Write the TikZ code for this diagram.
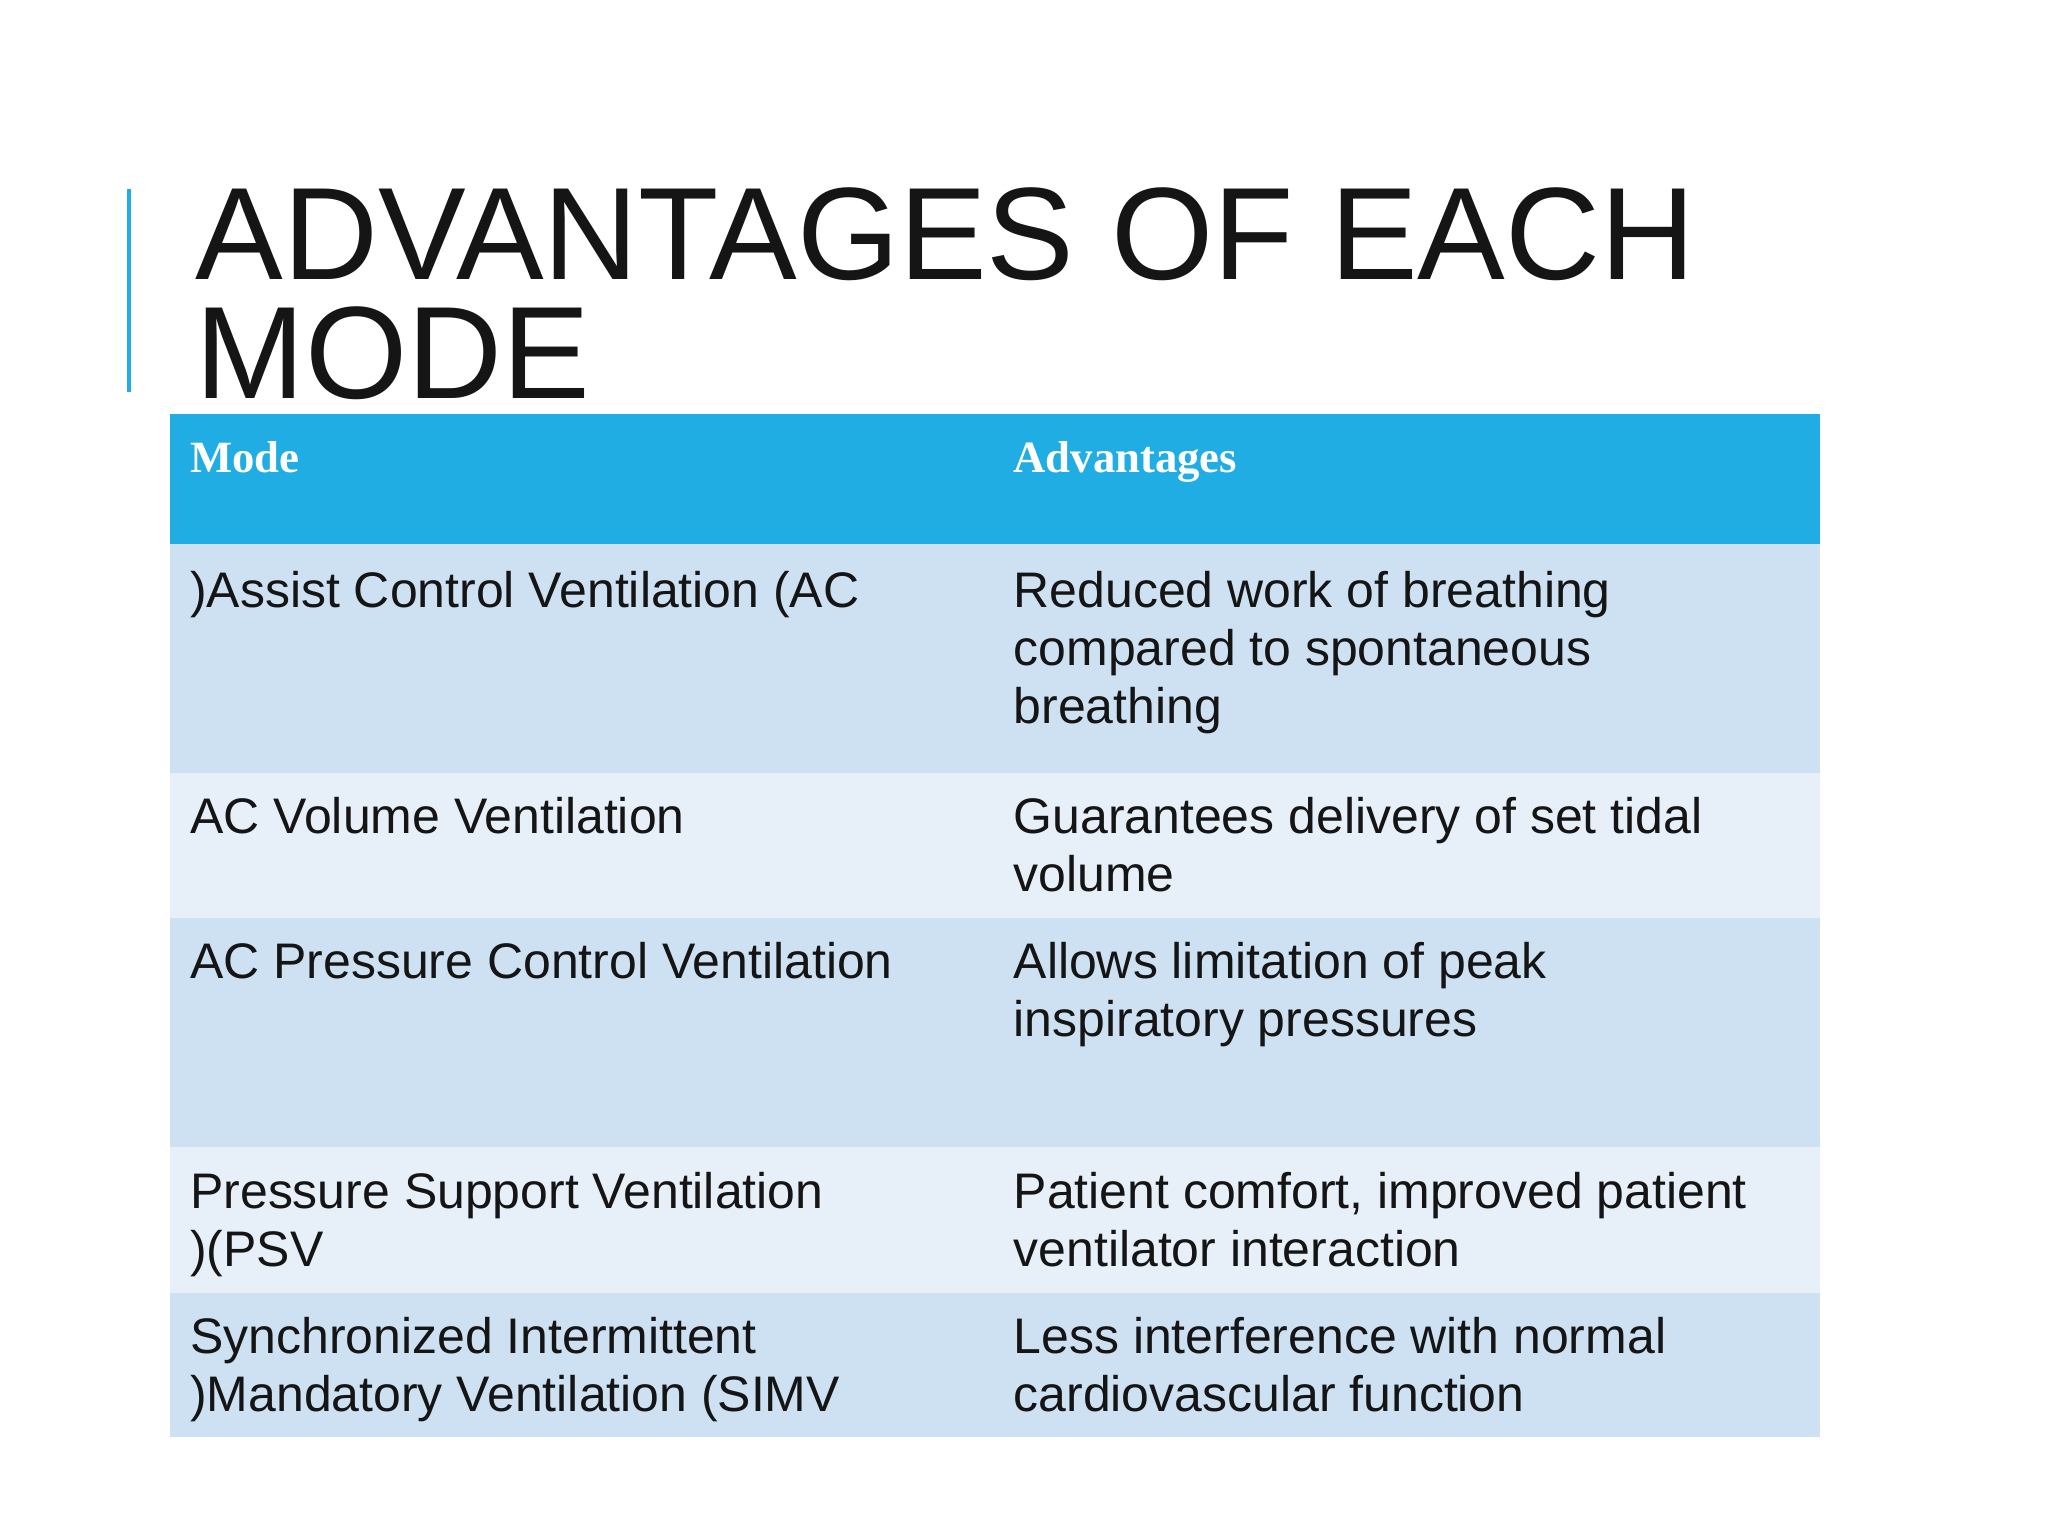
\documentclass[tikz,border=0pt]{standalone}
\usepackage{fontspec}
\setmainfont{Liberation Sans}
\newfontfamily\hdrfont{Liberation Serif}
\definecolor{hdr}{HTML}{1FADE3}
\definecolor{rowA}{HTML}{CDE1F3}
\definecolor{rowB}{HTML}{E7EFF9}
\definecolor{ink}{HTML}{151515}
\begin{document}
\begin{tikzpicture}[x=1bp,y=-1bp,
  cell/.style={anchor=north west,inner sep=0pt,align=left,text=ink,font=\fontsize{38}{44}\selectfont},
  head/.style={anchor=base west,inner sep=0pt,text=white,font=\hdrfont\bfseries\fontsize{34}{40}\selectfont},
  title/.style={anchor=base west,inner sep=0pt,text=ink,font=\fontsize{100}{100}\selectfont}]
\useasboundingbox (0,0) rectangle (1552,1164);
\draw[line width=3bp,hdr] (98,143) -- (98,297);
\node[title] (t1) at (148,212) {ADVANTAGES OF EACH};
\node[title] (t2) at (148,302) {MODE};
\fill[hdr] (129,314) rectangle (1379,412);
\fill[rowA] (129,412) rectangle (1379,586);
\fill[rowB] (129,586) rectangle (1379,696);
\fill[rowA] (129,696) rectangle (1379,869);
\fill[rowB] (129,869) rectangle (1379,980);
\fill[rowA] (129,980) rectangle (1379,1089);
\node[head] (h1) at (144,358) {Mode};
\node[head] (h2) at (768,358) {Advantages};
\node[cell] (m1) at (144,433) {)Assist Control Ventilation (AC};
\node[cell] (a1) at (768,433) {Reduced work of breathing\\compared to spontaneous\\breathing};
\node[cell] (m2) at (144,604) {AC Volume Ventilation};
\node[cell] (a2) at (768,604) {Guarantees delivery of set tidal\\volume};
\node[cell] (m3) at (144,714) {AC Pressure Control Ventilation};
\node[cell] (a3) at (768,714) {Allows limitation of peak\\inspiratory pressures};
\node[cell] (m4) at (144,888) {Pressure Support Ventilation\\)(PSV};
\node[cell] (a4) at (768,888) {Patient comfort, improved patient\\ventilator interaction};
\node[cell] (m5) at (144,998) {Synchronized Intermittent\\)Mandatory Ventilation (SIMV};
\node[cell] (a5) at (768,998) {Less interference with normal\\cardiovascular function};
\end{tikzpicture}
\end{document}
